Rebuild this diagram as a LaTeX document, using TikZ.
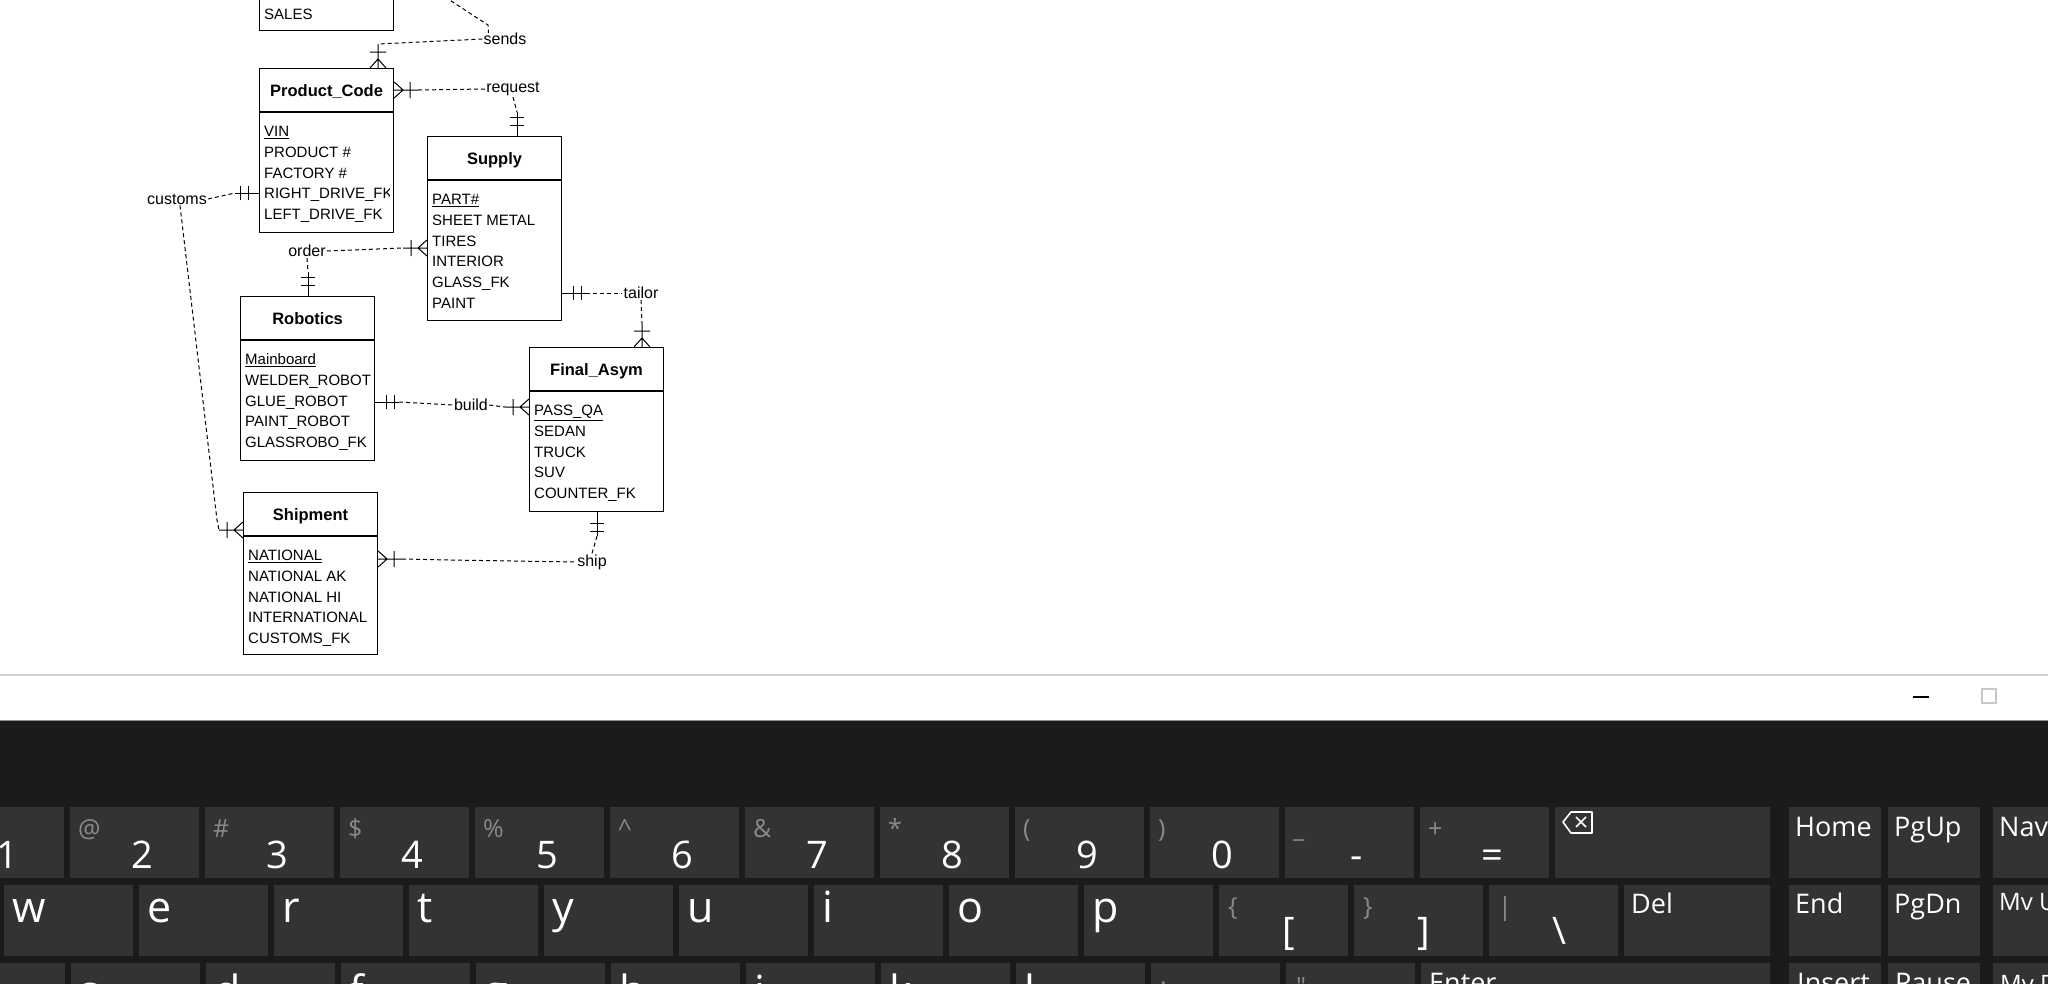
\documentclass[tikz,border=0pt]{standalone}
\usepackage{fontspec}
\setmainfont{Liberation Sans}
\newfontfamily\kbfont{Open Sans}
\usetikzlibrary{calc}
\definecolor{kbbg}{HTML}{1B1B1B}
\definecolor{keybg}{HTML}{333333}
\definecolor{keygray}{HTML}{8A8A8A}
\definecolor{sepgray}{HTML}{D4D4D4}
\definecolor{barline}{HTML}{8C8C8C}
\definecolor{maxgray}{HTML}{C8C8C8}

\tikzset{
  ebox/.style={draw, line width=1.1pt, rectangle, inner sep=0pt, anchor=north west},
  ebline/.style={line width=1.1pt},
  etitle/.style={font=\fontsize{16.5}{18}\selectfont\bfseries, inner sep=0pt, anchor=base},
  eattr/.style={font=\fontsize{15}{17}\selectfont, inner sep=0pt, anchor=base west},
  rlabel/.style={font=\fontsize{16}{18}\selectfont, inner sep=1pt},
  rel/.style={line width=1pt, dash pattern=on 4pt off 3pt},
  onlyone/.pic={\draw[line width=1pt] (0,0) -- (24,0) (11,-7) -- (11,7) (19,-7) -- (19,7);},
  onemany/.pic={\draw[line width=1pt] (0,-8) -- (9,0) -- (0,8) (0,0) -- (24,0) (16,-8) -- (16,8);},
  keyfill/.style={fill=keybg},
  kbmain/.style={font=\kbfont\fontsize{38}{40}\selectfont, text=white, inner sep=0pt, anchor=base},
  kbsym/.style={font=\kbfont\fontsize{25}{27}\selectfont, text=keygray, inner sep=0pt, anchor=base west},
  kbletter/.style={font=\kbfont\fontsize{43}{45}\selectfont, text=white, inner sep=0pt, anchor=base west},
  kbnav/.style={font=\kbfont\fontsize{27}{29}\selectfont, text=white, inner sep=0pt, anchor=base west},
  kbsmall/.style={font=\kbfont\fontsize{24}{26}\selectfont, text=white, inner sep=0pt, anchor=base west},
}

\newcommand\ERbox[6]{%
  \node[ebox, minimum width=134, minimum height=#4] (#1) at (#2,#3) {};
  \node[etitle] (#1t) at ($(#1.north)+(0,28)$) {#5};
  \draw[ebline] ($(#1.north west)+(0,44)$) -- ($(#1.north east)+(0,44)$);
  \begin{scope}
    \clip ($(#1.north west)+(1,45)$) rectangle ($(#1.south east)+(-5,-1)$);
    \foreach \attr [count=\ix from 0] in {#6} {
      \node[eattr] at ($(#1.north west)+(5,68.5+20.8*\ix)$) {\attr};
    }
  \end{scope}
}

\begin{document}
\begin{tikzpicture}[x=1pt,y=-1pt]
\useasboundingbox (0,0) rectangle (2048,983);
\clip (0,0) rectangle (2048,983);
\fill[white] (-10,-10) rectangle (2060,720);

% ---------------- ER diagram ----------------
\node[ebox, minimum width=134, minimum height=140] (SA) at (259,-110) {};
\node[eattr] (SAa) at (264,19.5) {SALES};

\ERbox{PC}{259}{68}{164}{Product\_Code}{\underline{VIN},PRODUCT \#,FACTORY \#,RIGHT\_DRIVE\_FK,LEFT\_DRIVE\_FK}
\ERbox{SU}{427}{136}{184}{Supply}{\underline{PART\#},SHEET METAL,TIRES,INTERIOR,GLASS\_FK,PAINT}
\ERbox{RB}{240}{296}{164}{Robotics}{\underline{Mainboard},WELDER\_ROBOT,GLUE\_ROBOT,PAINT\_ROBOT,GLASSROBO\_FK}
\ERbox{FA}{529}{347}{164}{Final\_Asym}{\underline{PASS\_QA},SEDAN,TRUCK,SUV,COUNTER\_FK}
\ERbox{SH}{243}{492}{162}{Shipment}{\underline{NATIONAL},NATIONAL AK,NATIONAL HI,INTERNATIONAL,CUSTOMS\_FK}

\node[rlabel] (sends) at (505,39) {sends};
\node[rlabel] (request) at (513,89) {request};
\node[rlabel] (customs) at (177,199) {customs};
\node[rlabel] (order) at (307,251) {order};
\node[rlabel] (tailor) at (641,293) {tailor};
\node[rlabel] (build) at (471,405) {build};
\node[rlabel] (ship) at (592,562) {ship};

% sends
\coordinate (sendsUp) at (445,-3);
\draw[rel] (sendsUp) -- (488,25) -- ($(sends.north west)+(6,1)$);
\pic[rotate=90] at ($(PC.north west)+(119,0)$) {onemany};
\coordinate (pcTop) at ($(PC.north west)+(119,-24)$);
\draw[rel] (sends.west) -- (pcTop);

% request
\pic at ($(PC.north east)+(0,22)$) {onemany};
\coordinate (pcReq) at ($(PC.north east)+(24,22)$);
\draw[rel] (pcReq) -- (request.west);
\pic[rotate=90] at ($(SU.north west)+(90,0)$) {onlyone};
\coordinate (suTop) at ($(SU.north west)+(90,-24)$);
\draw[rel] (request.south) -- (suTop);

% customs
\pic[rotate=180] at ($(PC.north west)+(0,125)$) {onlyone};
\coordinate (pcCus) at ($(PC.north west)+(-24,125)$);
\draw[rel] (customs.east) -- (pcCus);
\pic[rotate=180] at ($(SH.north west)+(0,38)$) {onemany};
\coordinate (shCus) at ($(SH.north west)+(-24,38)$);
\draw[rel] ($(customs.south)+(3,0)$) -- (217,520) -- (shCus);

% order
\pic[rotate=180] at ($(SU.north west)+(0,112)$) {onemany};
\coordinate (suOrd) at ($(SU.north west)+(-24,112)$);
\draw[rel] (order.east) -- (suOrd);
\pic[rotate=90] at ($(RB.north west)+(68,0)$) {onlyone};
\coordinate (rbTop) at ($(RB.north west)+(68,-24)$);
\draw[rel] (order.south) -- (rbTop);

% tailor
\pic at ($(SU.north east)+(0,157)$) {onlyone};
\coordinate (suTai) at ($(SU.north east)+(24,157)$);
\draw[rel] (suTai) -- (tailor.west);
\pic[rotate=90] at ($(FA.north west)+(113,0)$) {onemany};
\coordinate (faTop) at ($(FA.north west)+(113,-24)$);
\draw[rel] (tailor.south) -- (faTop);

% build
\pic at ($(RB.north east)+(0,106)$) {onlyone};
\coordinate (rbBui) at ($(RB.north east)+(24,106)$);
\draw[rel] (rbBui) -- (build.west);
\pic[rotate=180] at ($(FA.north west)+(0,60)$) {onemany};
\coordinate (faBui) at ($(FA.north west)+(-24,60)$);
\draw[rel] (build.east) -- (faBui);

% ship
\pic at ($(SH.north east)+(0,67)$) {onemany};
\coordinate (shShip) at ($(SH.north east)+(24,67)$);
\draw[rel] (shShip) -- (450,560) -- (ship.west);
\pic[rotate=-90] at ($(FA.south west)+(68,0)$) {onlyone};
\coordinate (faBot) at ($(FA.south west)+(68,24)$);
\draw[rel] (ship.north) -- (faBot);

% ---------------- window bar ----------------
\draw[sepgray, line width=2pt] (0,675) -- (2048,675);
\draw[line width=1.6pt] (1913,697) -- (1929,697);
\draw[maxgray, line width=1.5pt] (1982,689) rectangle (1996,703);

% ---------------- keyboard ----------------
\fill[kbbg] (-10,720) rectangle (2060,1010);
\draw[barline, line width=1pt] (0,720) -- (2048,720);

% row 1
\foreach \x/\dg/\sy in {-65/1/!,70/2/@,205/3/\#,340/4/\$,475/5/\%,610/6/\textasciicircum,745/7/\&,880/8/*,1015/9/(,1150/0/),1285/-/\_,1420/=/+} {
  \fill[keyfill] (\x,807) rectangle ++(129,71);
  \node[kbsym] at (\x+8,837) {\sy};
  \node[kbmain] at (\x+72,868) {\dg};
}
\fill[keyfill] (1555,807) rectangle (1770,878);
\draw[white, line width=1.6pt, line join=round] (1563,822) -- (1571,812) -- (1592,812) -- (1592,833) -- (1571,833) -- cycle;
\draw[white, line width=1.6pt] (1576,817) -- (1586,827) (1576,827) -- (1586,817);
\fill[keyfill] (1789,807) rectangle (1881,878);
\node[kbnav] at (1795,836) {Home};
\fill[keyfill] (1888,807) rectangle (1980,878);
\node[kbnav] at (1894,836) {PgUp};
\fill[keyfill] (1993,807) rectangle (2100,878);
\node[kbnav] at (1999,836) {Nav};

% row 2
\foreach \x/\lt in {4/w,139/e,274/r,409/t,544/y,679/u,814/i,949/o,1084/p} {
  \fill[keyfill] (\x,885) rectangle ++(129,71);
  \node[kbletter] at (\x+8,922) {\lt};
}
\foreach \x/\gs/\ms in {1219/\{/[,1354/\}/],1489/|/\textbackslash} {
  \fill[keyfill] (\x,885) rectangle ++(129,71);
  \node[kbsym] at (\x+9,915) {\gs};
  \node[kbmain] at (\x+70,944) {\ms};
}
\fill[keyfill] (1624,885) rectangle (1770,956);
\node[kbnav] at (1631,913) {Del};
\fill[keyfill] (1789,885) rectangle (1881,956);
\node[kbnav] at (1795,913) {End};
\fill[keyfill] (1888,885) rectangle (1980,956);
\node[kbnav] at (1894,913) {PgDn};
\fill[keyfill] (1993,885) rectangle (2100,956);
\node[kbsmall] at (1999,910) {Mv Up};

% row 3
\fill[keyfill] (-64,963) rectangle ++(129,71);
\foreach \x/\lt in {71/s,206/d,341/f,476/g,611/h,746/j,881/k,1016/l} {
  \fill[keyfill] (\x,963) rectangle ++(129,71);
  \node[kbletter] at (\x+8,1006) {\lt};
}
\fill[keyfill] (1151,963) rectangle ++(129,71);
\node[kbsym] at (1160,995) {:};
\fill[keyfill] (1286,963) rectangle ++(129,71);
\node[kbsym] at (1296,995) {\textquotedbl};
\fill[keyfill] (1421,963) rectangle (1770,1040);
\node[kbnav] at (1429,992) {Enter};
\fill[keyfill] (1789,963) rectangle (1881,1040);
\node[kbnav] at (1797,992) {Insert};
\fill[keyfill] (1888,963) rectangle (1980,1040);
\node[kbnav] at (1895,992) {Pause};
\fill[keyfill] (1993,963) rectangle (2100,1040);
\node[kbsmall] at (2000,992) {Mv Dn};
\end{tikzpicture}
\end{document}
